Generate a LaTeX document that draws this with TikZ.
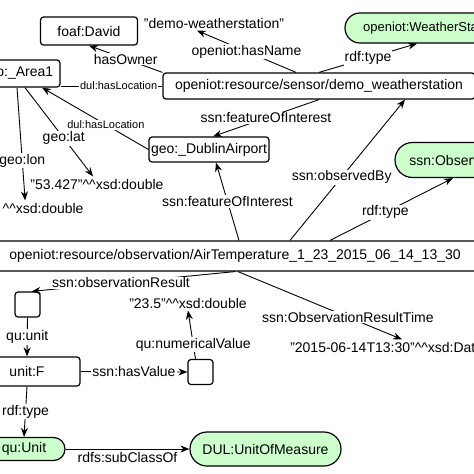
\documentclass[tikz,border=0pt]{standalone}
\usepackage{fontspec}
\setmainfont{Liberation Sans}
\usepackage{tikz}
\usetikzlibrary{arrows.meta,shapes.misc,positioning}

\tikzset{
  res/.style={draw, line width=1.2pt, rounded corners=3pt, inner sep=2pt},
  cls/.style={draw, line width=1.2pt, fill=green!20, rounded rectangle, inner sep=2pt},
  blank/.style={draw, line width=1.2pt, rounded corners=3pt, minimum width=25, minimum height=25},
  lit/.style={inner sep=2pt},
  lbl/.style={fill=white, inner sep=1pt},
  small/.style={font=\fontsize{11}{13}\selectfont}
}

\begin{document}
\begin{tikzpicture}[x=1pt, y=-1pt, font=\fontsize{14}{16}\selectfont, line width=0.9pt,
  >={Stealth[length=9pt,width=7pt]}]
            \useasboundingbox (0,0) rectangle (474,474);
            \clip (0,0) rectangle (474,474);

            \node[res, minimum width=97, minimum height=28] (david) at (89,31) {foaf:David};
            \node[lit] (demo) at (214,23) {"demo-weatherstation"};
            \node[cls, font=\fontsize{13}{15}\selectfont, minimum width=176, minimum height=30] (ws) at (431,28) {openiot:WeatherStation};
            \node[res, minimum width=312, minimum height=26] (sensor) at (319,86) {openiot:resource/sensor/demo\_weatherstation};
            \node[res, minimum width=86, minimum height=27] (area) at (17,73.5) {geo:\_Area1};
            \node[res, minimum width=118, minimum height=25] (airport) at (209,149.5) {geo:\_DublinAirport};
            \node[lit] (lat) at (97,184) {"53.427"\textasciicircum\textasciicircum xsd:double};
            \node[lit, anchor=east] (lon) at (86,208) {\textasciicircum\textasciicircum xsd:double};
            \node[cls, minimum width=134, minimum height=35] (observ) at (460,160) {ssn:Observation};
            \node[res, minimum width=490, minimum height=30] (obs) at (235,256) {openiot:resource/observation/AirTemperature\_1\_23\_2015\_06\_14\_13\_30};
            \node[blank] (b1) at (27.5,304.5) {};
            \node[lit] (num) at (188,303) {"23.5"\textasciicircum\textasciicircum xsd:double};
            \node[lit] (time) at (402,347) {"2015-06-14T13:30"\textasciicircum\textasciicircum xsd:DateTime};
            \node[res, minimum width=106, minimum height=29] (unitF) at (27,371.5) {unit:F};
            \node[blank] (b2) at (200.5,372) {};
            \node[cls, minimum width=86, minimum height=23] (quunit) at (24,449) {qu:Unit};
            \node[cls, minimum width=155, minimum height=34] (dul) at (265.5,449) {DUL:UnitOfMeasure};

            \draw[->] (sensor.north west) -- node[lbl] {hasOwner} (david.south);
            \draw[->] ([xshift=-23pt]sensor.north) -- node[lbl] {openiot:hasName} ([xshift=-17pt]demo.south);
            \draw[->] (sensor.north) -- node[lbl] {rdf:type} ([xshift=-14pt]ws.south);
            \draw (sensor.west) -- node[lbl, small, pos=0.43] {dul:hasLocation} (sensor.west -| area.east);
            \draw[->] (airport.west) -- node[lbl, small, pos=0.4] {dul:hasLocation} ([xshift=25pt]area.south);
            \draw[->] ([xshift=8pt]area.south) -- node[lbl, pos=0.57] {geo:lat} ([xshift=-4pt]lat.north);
            \draw[->] (area.south) -- node[lbl, pos=0.65] {geo:lon} ([xshift=-18pt]lon.north);
            \draw[->] (sensor.south) -- node[lbl] {ssn:featureOfInterest} ([xshift=4pt]airport.north);
            \draw[->] ([xshift=4pt]obs.north) -- node[lbl] {ssn:featureOfInterest} ([xshift=7pt]airport.south);
            \draw[->] ([xshift=55pt]obs.north) -- node[lbl, pos=0.45] {ssn:observedBy} ([xshift=86pt]sensor.south);
            \draw[->] ([xshift=95pt]obs.north) -- node[lbl, pos=0.45] {rdf:type} ([xshift=-7pt]observ.south);
            \draw[->] (obs.south) -- node[lbl, pos=0.56] {ssn:observationResult} ([xshift=4pt]b1.north);
            \draw[->] ([xshift=3pt]obs.south) -- node[lbl, pos=0.67] {ssn:ObservationResultTime} (time.north);
            \draw[->] (b1.south) -- node[lbl] {qu:unit} (unitF.north);
            \draw[->] (unitF.east) -- node[lbl] {ssn:hasValue} (b2.west);
            \draw[->] ([xshift=-5pt]b2.north) -- node[lbl, pos=0.3] {qu:numericalValue} (num.south);
            \draw[->] (unitF.south) -- node[lbl] {rdf:type} (quunit.north);
            \draw[->] (quunit.east) -- node[below] {rdfs:subClassOf} (dul.west);
        \end{tikzpicture}
\end{document}
